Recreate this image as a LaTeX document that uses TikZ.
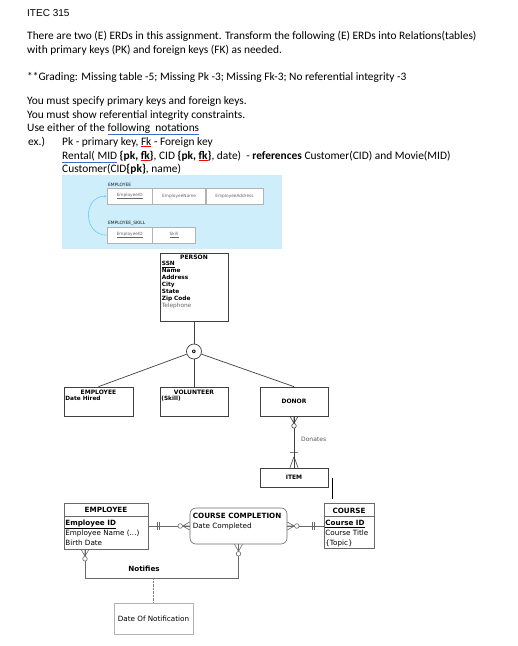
\documentclass[tikz,border=0pt]{standalone}
\usepackage{fontspec}
\setmainfont{Carlito}
\newfontfamily\erfont{DejaVu Sans}
\newfontfamily\hdfont{Liberation Sans}
\usetikzlibrary{arrows.meta,positioning}
\definecolor{panelblue}{RGB}{206,238,252}
\definecolor{linkblue}{RGB}{60,110,200}
\definecolor{curveblue}{RGB}{95,195,240}
\definecolor{ergray}{RGB}{105,105,105}
\newcommand\linkul[1]{\textcolor{linkblue}{\underline{\textcolor{black}{#1}}}}
\newcommand\spellul[1]{\textcolor{red}{\underline{\textcolor{black}{#1}}}}
\tikzset{
  zeromany/.pic={\draw (-7,0) -- (0,4) (-7,0) -- (0,-4) (-7,0) -- (0,0);
    \draw[fill=white] (-9.5,0) circle[radius=2.3pt];},
  onlyone/.pic={\draw (-9,-4) -- (-9,4) (-11,-4) -- (-11,4);},
  onemany/.pic={\draw (-11,0) -- (0,4) (-11,0) -- (0,-4) (-15,-4) -- (-15,4);}
}
\begin{document}
\begin{tikzpicture}[x=1pt,y=-1pt,
  txt/.style={anchor=base west,inner sep=0pt,font=\fontsize{11.4}{13}\selectfont},
  cell/.style={draw=gray!60,fill=white,minimum height=16pt,inner sep=0pt,text=gray!80!black,font=\erfont\fontsize{4.3}{5}\selectfont},
  cellhead/.style={anchor=south west,inner sep=1pt,text=gray!20!black,font=\erfont\fontsize{4.4}{5}\selectfont},
  ebox/.style={draw=black!75,line width=0.7pt,inner sep=0pt},
  ehead/.style={font=\erfont\bfseries\fontsize{6}{7}\selectfont,inner sep=0pt},
  eattr/.style={anchor=north west,align=left,inner sep=0pt,font=\erfont\bfseries\fontsize{5.8}{6.9}\selectfont},
  erbox/.style={draw=ergray,line width=0.6pt,inner sep=0pt},
  erhead/.style={font=\erfont\bfseries\fontsize{7.2}{8}\selectfont,inner sep=0pt},
  erattr/.style={anchor=north west,align=left,inner sep=0pt,font=\erfont\fontsize{7.2}{10}\selectfont}
]
\useasboundingbox[fill=white] (0,0) rectangle (518,646);
% assignment text
\node[txt,font=\hdfont\fontsize{10}{12}\selectfont] (hdr) at (27,16) {ITEC 315};
\node[txt] (l1) at (27,39) {There are two (E) ERDs in this assignment. Transform the following (E) ERDs into Relations(tables)};
\node[txt] (l2) at (27,53) {with primary keys (PK) and foreign keys (FK) as needed.};
\node[txt] (l3) at (27,80) {**Grading: Missing table -5; Missing Pk -3; Missing Fk-3; No referential integrity -3};
\node[txt] (l4) at (27,104) {You must specify primary keys and foreign keys.};
\node[txt] (l5) at (27,118) {You must show referential integrity constraints.};
\node[txt] (l6) at (27,131) {Use either of the \linkul{following\ \ notations}};
\node[txt] (l7) at (28,145) {ex.)};
\node[txt] (l8) at (62,145) {Pk - primary key, \spellul{Fk} - Foreign key};
\node[txt] (l9) at (62,159) {\linkul{Rental( MID} \textbf{\{pk, \spellul{fk}\}}, CID \textbf{\{pk, \spellul{fk}\}}, date)\ \ - \textbf{references} Customer(CID) and Movie(MID)};
\node[txt] (l10) at (62,172) {Customer(CID\textbf{\{pk\}}, name)};
% relational example
\node[fill=panelblue,minimum width=220pt,minimum height=74pt,anchor=north west,inner sep=0pt] (panel) at (62,175) {};
\node[cell,minimum width=45pt,anchor=north west] (eid) at (107,188) {\underline{EmployeeID}};
\node[cell,minimum width=53pt,right=0pt of eid] (ename) {EmployeeName};
\node[cell,minimum width=57pt,right=0pt of ename] (eaddr) {EmployeeAddress};
\node[cellhead] (etab) at (eid.north west) {EMPLOYEE};
\node[cell,minimum width=45pt,anchor=north west] (sid) at (107,227) {\underline{EmployeeID}};
\node[cell,minimum width=43pt,right=0pt of sid] (sskill) {\underline{Skill}};
\node[cellhead] (stab) at (sid.north west) {EMPLOYEE\_SKILL};
\draw[curveblue,line width=0.5pt,-{Latex[length=2.5pt,width=2pt]}] (sid.west) to[out=180,in=180,looseness=1.6] (eid.west);
% supertype / subtype
\node[ebox,minimum width=68pt,minimum height=68pt] (person) at (194,287) {};
\node[ehead,anchor=north] (phead) at ([yshift=-1.8pt]person.north) {PERSON};
\node[eattr] (pattr) at ([xshift=2pt,yshift=-8.7pt]person.north west) {\underline{SSN}\\Name\\Address\\City\\State\\Zip Code\\{\mdseries\color{black!60}Telephone}};
\node[draw=black!75,line width=0.7pt,circle,minimum size=15pt,inner sep=0pt,font=\erfont\bfseries\fontsize{6}{6}\selectfont] (disj) at (194,351.5) {o};
\node[ebox,minimum width=69pt,minimum height=29pt] (emp) at (98.5,401.5) {};
\node[ehead,anchor=north] (emphead) at ([yshift=-2.8pt]emp.north) {EMPLOYEE};
\node[eattr] (empattr) at ([xshift=1.5pt,yshift=-9.7pt]emp.north west) {Date Hired};
\node[ebox,minimum width=68pt,minimum height=29pt] (vol) at (194,401.5) {};
\node[ehead,anchor=north] (volhead) at ([yshift=-2.8pt]vol.north) {VOLUNTEER};
\node[eattr] (volattr) at ([xshift=1.5pt,yshift=-9.7pt]vol.north west) {(Skill)};
\node[ebox,minimum width=68pt,minimum height=29pt] (donor) at (294,401.5) {};
\node[ehead] (donorhead) at (donor) {DONOR};
\node[ebox,minimum width=68pt,minimum height=19pt] (item) at (294,477.5) {};
\node[ehead] (itemhead) at (item) {ITEM};
\begin{scope}[black!75,line width=0.7pt]
\draw (person) -- (disj);
\draw (disj) -- (emp.north);
\draw (disj) -- (vol.north);
\draw (disj) -- (donor.north);
\draw (donor) -- (item);
\end{scope}
\pic[color=black!75,line width=0.6pt,rotate=90] at (donor.south) {zeromany};
\pic[color=black!75,line width=0.6pt,rotate=-90] at (item.north) {onemany};
\node[anchor=west,inner sep=0pt,text=gray!70!black,font=\erfont\fontsize{6}{7}\selectfont] (donates) at (301,439) {Donates};
\draw[black,line width=0.8pt] (332,478) -- (332,499);
% course completion
\node[erbox,minimum width=84pt,minimum height=46pt] (emp2) at (106,526) {};
\draw[ergray,line width=1pt] ([yshift=-14pt]emp2.north west) -- ([yshift=-14pt]emp2.north east);
\node[erhead,anchor=north] (emp2head) at ([yshift=-4.4pt]emp2.north) {EMPLOYEE};
\node[erattr] (emp2attr) at ([xshift=1.5pt,yshift=-17.1pt]emp2.north west) {\textbf{\underline{Employee ID}}\\Employee Name (...)\\Birth Date};
\node[erbox,rounded corners=6pt,minimum width=97pt,minimum height=36pt] (cc) at (238.5,526) {};
\node[erattr] (ccattr) at ([xshift=3pt,yshift=-5.1pt]cc.north west) {\textbf{COURSE COMPLETION}\\Date Completed};
\node[erbox,minimum width=50pt,minimum height=45pt] (course) at (349,526) {};
\draw[ergray,line width=1pt] ([yshift=-13pt]course.north west) -- ([yshift=-13pt]course.north east);
\node[erhead,anchor=north] (coursehead) at ([yshift=-4.4pt]course.north) {COURSE};
\node[erattr] (courseattr) at ([xshift=1.5pt,yshift=-17.1pt]course.north west) {\textbf{\underline{Course ID}}\\Course Title\\\{Topic\}};
\begin{scope}[ergray,line width=0.6pt]
\draw (emp2) -- (cc);
\draw (cc) -- (course);
\coordinate (nleft) at (85,578);
\coordinate (nright) at (cc.south |- nleft);
\draw (emp2.south -| nleft) -- (nleft) -- (nright) -- (cc.south);
\pic[rotate=180] at (emp2.east) {onlyone};
\pic at (cc.west) {zeromany};
\pic[rotate=180] at (cc.east) {zeromany};
\pic at (course.west) {onlyone};
\pic[rotate=90] at (emp2.south -| nleft) {zeromany};
\pic[rotate=90] at (cc.south) {zeromany};
\end{scope}
\node[erhead] (notifies) at (144,569) {Notifies};
\node[erbox,draw=gray!60,minimum width=79pt,minimum height=31pt,font=\erfont\fontsize{7.2}{8}\selectfont] (dnote) at (153.5,618.5) {Date Of Notification};
\draw[gray,densely dotted] (dnote.north |- nleft) -- (dnote.north);
\end{tikzpicture}
\end{document}
